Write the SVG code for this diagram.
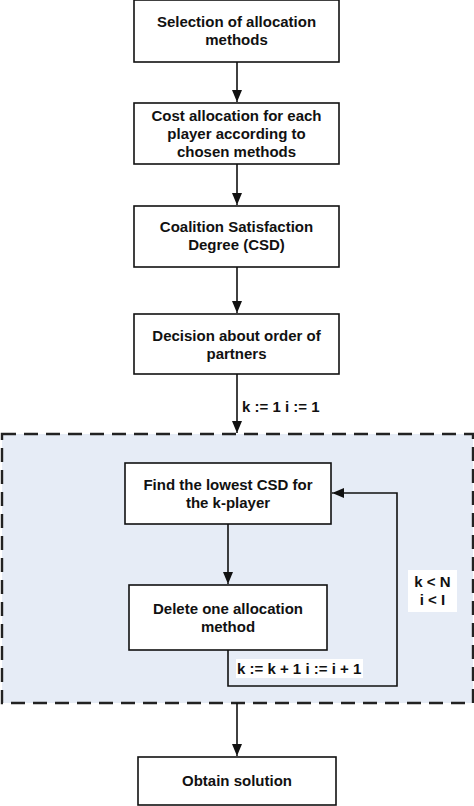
<svg xmlns="http://www.w3.org/2000/svg" width="474" height="806" viewBox="0 0 474 806">
<style>
.box{fill:#fff;stroke:#111;stroke-width:1.6}
.t{font-family:"Liberation Sans",Arial,sans-serif;font-weight:bold;font-size:15px;fill:#111;text-anchor:middle}
.tl{font-family:"Liberation Sans",Arial,sans-serif;font-weight:bold;font-size:15px;fill:#111}
.c{fill:none;stroke:#111;stroke-width:1.6}
</style>
<defs>
<marker id="ah" markerWidth="10" markerHeight="12" refX="12" refY="5" orient="auto" markerUnits="userSpaceOnUse">
<path d="M0,0 L12,5 L0,10 Z" fill="#111"/>
</marker>
</defs>
<g id="group">
<rect x="2" y="434" width="471" height="269" fill="#e6ecf6" stroke="#222" stroke-width="2.4" stroke-dasharray="14,8"/>
</g>
<g id="connectors">
<line class="c" x1="237" y1="62" x2="237" y2="102" marker-end="url(#ah)"/>
<line class="c" x1="237" y1="164" x2="237" y2="205" marker-end="url(#ah)"/>
<line class="c" x1="237" y1="267" x2="237" y2="313" marker-end="url(#ah)"/>
<line class="c" x1="237" y1="374" x2="237" y2="433" marker-end="url(#ah)"/>
<line class="c" x1="228" y1="524" x2="228" y2="584" marker-end="url(#ah)"/>
<polyline class="c" points="228,650 228,686 397,686 397,493 332,493" marker-end="url(#ah)"/>
<line class="c" x1="237" y1="703" x2="237" y2="756" marker-end="url(#ah)"/>
<g id="label-init"><text class="tl" x="242" y="412">k := 1 i := 1</text></g>
<g id="label-cond">
<rect x="408" y="570" width="49" height="42" fill="#fff"/>
<text class="t" x="432.5" y="587">k &lt; N</text>
<text class="t" x="432.5" y="605">i &lt; I</text>
</g>
<g id="label-inc">
<rect x="236" y="659" width="127" height="19" fill="#fff"/>
<text class="tl" x="237" y="674">k := k + 1 i := i + 1</text>
</g>
</g>
<g id="n1">
<rect class="box" x="134" y="0" width="205" height="62"/>
<text class="t" x="236.5" y="27">Selection of allocation</text>
<text class="t" x="236.5" y="45">methods</text>
</g>
<g id="n2">
<rect class="box" x="134" y="103" width="205" height="61"/>
<text class="t" x="236.5" y="121">Cost allocation for each</text>
<text class="t" x="236.5" y="139">player according to</text>
<text class="t" x="236.5" y="157">chosen methods</text>
</g>
<g id="n3">
<rect class="box" x="134" y="206" width="205" height="61"/>
<text class="t" x="236.5" y="232">Coalition Satisfaction</text>
<text class="t" x="236.5" y="250">Degree (CSD)</text>
</g>
<g id="n4">
<rect class="box" x="134" y="314" width="205" height="60"/>
<text class="t" x="236.5" y="341">Decision about order of</text>
<text class="t" x="236.5" y="359">partners</text>
</g>
<g id="n5">
<rect class="box" x="125" y="463" width="206" height="61"/>
<text class="t" x="228" y="490">Find the lowest CSD for</text>
<text class="t" x="228" y="508">the k-player</text>
</g>
<g id="n6">
<rect class="box" x="129" y="585" width="198" height="65"/>
<text class="t" x="228" y="614">Delete one allocation</text>
<text class="t" x="228" y="632">method</text>
</g>
<g id="n7">
<rect class="box" x="138" y="757" width="198" height="48"/>
<text class="t" x="237" y="786">Obtain solution</text>
</g>
</svg>
